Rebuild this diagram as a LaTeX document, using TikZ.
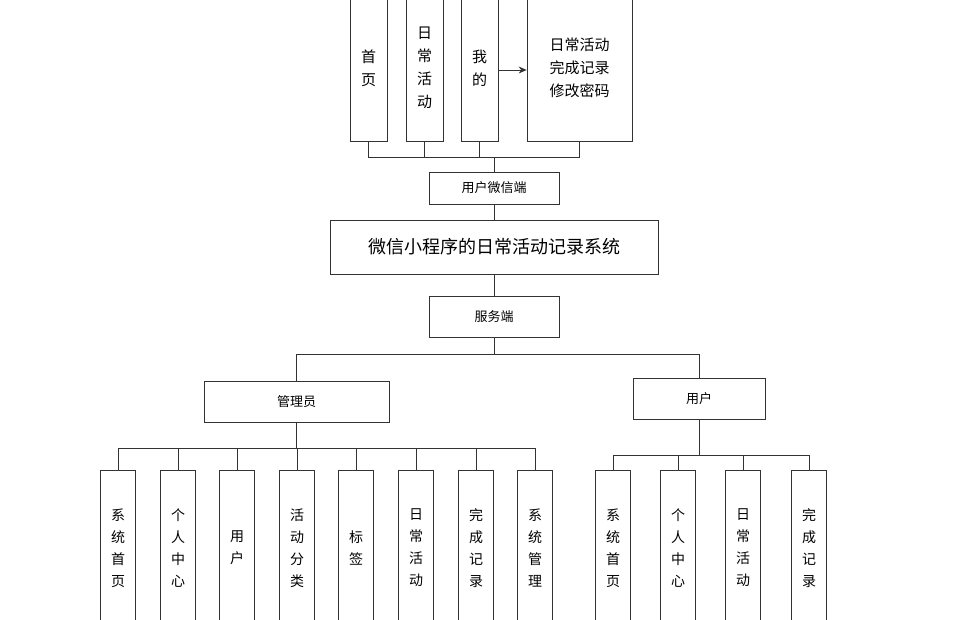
\documentclass[tikz,border=0pt]{standalone}
\usepackage{fontspec}
\setmainfont{Noto Sans CJK SC}
\usetikzlibrary{arrows.meta}
\begin{document}
\begin{tikzpicture}[x=1pt,y=-1pt,
  bx/.style={draw=black!80,line width=0.8pt,fill=white,inner sep=0pt},
  ln/.style={draw=black!80,line width=0.8pt},
  vt/.style={font=\fontsize{15}{23}\selectfont,align=center},
  vb/.style={font=\fontsize{14}{22}\selectfont,align=center}]
\useasboundingbox (0,0) rectangle (960,619);
\clip (0,0) rectangle (960,619);
% top
\node[bx,minimum width=37pt,minimum height=152pt,anchor=south] (t1) at (368.5,142) {};
\node[vt] at (368.5,68) {首\\页};
\node[bx,minimum width=37pt,minimum height=152pt,anchor=south] (t2) at (424.5,142) {};
\node[vt] at (424.5,68) {日\\常\\活\\动};
\node[bx,minimum width=37pt,minimum height=152pt,anchor=south] (t3) at (479.5,142) {};
\node[vt] at (479.5,68) {我\\的};
\node[bx,minimum width=105pt,minimum height=152pt,anchor=south] (t4) at (579.5,142) {};
\node[vt] at (579.5,68) {日常活动\\完成记录\\修改密码};
\draw[ln,-{Stealth[length=8pt,width=7pt]}] (t3.east|-0,70) -- (t4.west|-0,70);
\coordinate (h1) at (0,157);
\draw[ln] (t1.south) -- (t1.south|-h1) -- (t4.south|-h1) -- (t4.south);
\draw[ln] (t2.south) -- (t2.south|-h1);
\draw[ln] (t3.south) -- (t3.south|-h1);
\node[bx,minimum width=130pt,minimum height=32pt,font=\fontsize{13}{15}\selectfont] (wx) at (494,188) {用户微信端};
\draw[ln] (494,157) -- (wx.north);
\node[bx,minimum width=328pt,minimum height=54pt,font=\fontsize{18}{20}\selectfont] (sys) at (494,247) {微信小程序的日常活动记录系统};
\draw[ln] (wx) -- (sys);
\node[bx,minimum width=130pt,minimum height=41pt,font=\fontsize{13}{15}\selectfont] (fw) at (494,316.5) {服务端};
\draw[ln] (sys) -- (fw);
\node[bx,minimum width=185pt,minimum height=41pt,font=\fontsize{13}{15}\selectfont] (gl) at (296.5,401.5) {管理员};
\node[bx,minimum width=132pt,minimum height=41pt,font=\fontsize{13}{15}\selectfont] (yh) at (699,398.5) {用户};
\draw[ln] (fw.south) -- (494,354);
\draw[ln] (gl.north) -- (296.5,354) -- (699,354) -- (yh.north);
% admin children
\draw[ln] (gl.south) -- (296.5,448);
\foreach \x/\t [count=\i] in {118/系\\统\\首\\页,178/个\\人\\中\\心,237/用\\户,297/活\\动\\分\\类,356/标\\签,416/日\\常\\活\\动,476/完\\成\\记\\录,535/系\\统\\管\\理}{
  \node[bx,minimum width=35pt,minimum height=160pt,anchor=north] (a\i) at (\x,470) {};
  \node[vb] at (\x,548) {\t};
  \draw[ln] (a\i.north) -- (\x,448);
}
\draw[ln] (a1.north|-0,448) -- (a8.north|-0,448);
% user children
\draw[ln] (yh.south) -- (699,455);
\foreach \x/\t [count=\i] in {613/系\\统\\首\\页,678/个\\人\\中\\心,743/日\\常\\活\\动,809/完\\成\\记\\录}{
  \node[bx,minimum width=35pt,minimum height=160pt,anchor=north] (u\i) at (\x,470) {};
  \node[vb] at (\x,548) {\t};
  \draw[ln] (u\i.north) -- (\x,455);
}
\draw[ln] (u1.north|-0,455) -- (u4.north|-0,455);
\end{tikzpicture}
\end{document}
